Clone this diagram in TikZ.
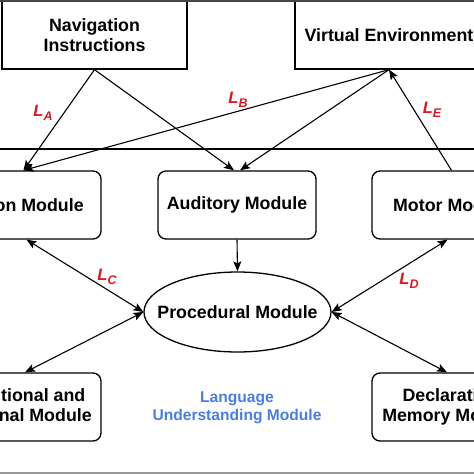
\documentclass[tikz,border=0pt]{standalone}
\usepackage{fontspec}
\setmainfont{Liberation Sans}
\usetikzlibrary{arrows.meta,shapes.geometric}
\definecolor{lred}{RGB}{222,22,32}
\definecolor{lblue}{RGB}{72,126,226}
\begin{document}
\begin{tikzpicture}[x=1pt,y=-1pt,
  sbox/.style={draw,line width=1.3pt,align=center,inner sep=0pt,
    font=\fontsize{17.8}{20}\selectfont\bfseries},
  mbox/.style={sbox,rounded corners=8pt},
  arr/.style={-{Stealth[length=10pt,width=8pt,inset=2pt]},line width=1.1pt},
  darr/.style={{Stealth[length=10pt,width=8pt,inset=2pt]}-{Stealth[length=10pt,width=8pt,inset=2pt]},line width=1.1pt},
  lab/.style={text=lred,inner sep=0pt,font=\fontsize{16.5}{16}\selectfont\bfseries\itshape},
  bluetext/.style={text=lblue,align=center,inner sep=0pt,font=\fontsize{15.6}{17.5}\selectfont\bfseries}]
\useasboundingbox (0,0) rectangle (474,474);
\clip (0,0) rectangle (474,474);
% rule
\draw[line width=2.2pt] (0,149) -- (474,149);
% nodes
\node[sbox,minimum width=185pt,minimum height=68pt] (nav) at (94.5,35) {Navigation\\Instructions};
\node[sbox,minimum width=188pt,minimum height=68pt] (venv) at (389,35) {Virtual Environment};
\node[mbox,minimum width=155pt,minimum height=68pt] (vis) at (23.5,205) {Vision Module};
\node[mbox,minimum width=158pt,minimum height=68pt] (aud) at (237,205) {Auditory Module};
\node[mbox,minimum width=159pt,minimum height=68pt] (mot) at (451.5,205) {Motor Module};
\node[sbox,ellipse,inner xsep=-14pt,inner ysep=0pt,minimum height=80pt] (proc) at (237.5,312) {Procedural Module};
\node[mbox,minimum width=158pt,minimum height=68pt] (ima) at (22,407) {Intentional and\\Imaginal Module};
\node[mbox,minimum width=156pt,minimum height=68pt] (dec) at (450,407) {Declarative\\Memory Module};
\node[bluetext] (lum) at (237,408) {Language\\Understanding Module};
% connectors
\draw[arr] (nav.south) -- (vis.north);
\draw[arr] (nav.south) -- ([xshift=-3pt]aud.north);
\draw[arr] (venv.south) -- (vis.north);
\draw[arr] (venv.south) -- ([xshift=3pt]aud.north);
\draw[arr] (mot.north) -- (venv.south);
\draw[arr] (aud.south) -- (proc.north);
\draw[darr] ([xshift=3pt]vis.south) -- (proc.west);
\draw[darr] (proc.west) -- ([xshift=3pt]ima.north);
\draw[darr] (proc.east) -- ([xshift=-4pt]mot.south);
\draw[darr] (proc.east) -- ([xshift=-3pt]dec.north);
% labels
\node[lab] (la) at (43,113) {L\raisebox{-0.45ex}{\fontsize{12.5}{12}\selectfont A}};
\node[lab] (lb) at (238,100) {L\raisebox{-0.45ex}{\fontsize{12.5}{12}\selectfont B}};
\node[lab] (le) at (432,110) {L\raisebox{-0.45ex}{\fontsize{12.5}{12}\selectfont E}};
\node[lab] (lc) at (107,277) {L\raisebox{-0.45ex}{\fontsize{12.5}{12}\selectfont C}};
\node[lab] (ld) at (409,281) {L\raisebox{-0.45ex}{\fontsize{12.5}{12}\selectfont D}};
% edge bands
\fill[black!72] (0,0) rectangle (474,2);
\fill[black!40] (0,472) rectangle (474,474);
\end{tikzpicture}
\end{document}
